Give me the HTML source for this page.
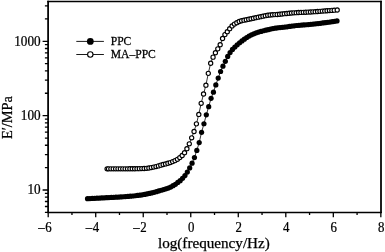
<!DOCTYPE html>
<html><head><meta charset="utf-8"><title>E′ vs log(frequency)</title>
<style>html,body{margin:0;padding:0;background:#fff}svg{display:block}</style></head>
<body><svg width="385" height="252" viewBox="0 0 385 252">
<rect width="385" height="252" fill="#fff"/>
<path d="M48.1 0.8V213.1M381.0 0.8V213.1" stroke="#000" stroke-width="1.75" fill="none"/>
<path d="M47.3 1.5H381.8M47.3 212.4H381.8" stroke="#000" stroke-width="1.45" fill="none"/>
<path d="M48.20 212.4v4.8M71.96 212.4v2.7M95.72 212.4v4.8M119.48 212.4v2.7M143.24 212.4v4.8M167.00 212.4v2.7M190.76 212.4v4.8M214.52 212.4v2.7M238.28 212.4v4.8M262.04 212.4v2.7M285.80 212.4v4.8M309.56 212.4v2.7M333.32 212.4v4.8M357.08 212.4v2.7M380.84 212.4v4.8M48.1 212.38h-3.2M48.1 206.49h-3.2M48.1 201.52h-3.2M48.1 197.21h-3.2M48.1 193.40h-3.2M48.1 190.00h-5.5M48.1 167.62h-3.2M48.1 154.53h-3.2M48.1 145.24h-3.2M48.1 138.03h-3.2M48.1 132.14h-3.2M48.1 127.17h-3.2M48.1 122.86h-3.2M48.1 119.05h-3.2M48.1 115.65h-5.5M48.1 93.27h-3.2M48.1 80.18h-3.2M48.1 70.89h-3.2M48.1 63.68h-3.2M48.1 57.79h-3.2M48.1 52.82h-3.2M48.1 48.51h-3.2M48.1 44.70h-3.2M48.1 41.30h-5.5M48.1 18.92h-3.2M48.1 5.83h-3.2" stroke="#000" stroke-width="1.3" fill="none"/>
<polyline points="87.52,198.69 89.90,198.57 92.27,198.45 94.65,198.32 97.03,198.20 99.40,198.07 101.78,197.95 104.15,197.82 106.53,197.69 108.91,197.55 111.28,197.43 113.66,197.30 116.03,197.17 118.41,197.04 120.79,196.90 123.16,196.75 125.54,196.58 127.91,196.41 130.29,196.21 132.67,196.00 135.04,195.75 137.42,195.48 139.79,195.17 142.17,194.82 144.55,194.43 146.92,193.99 149.30,193.47 151.67,192.90 154.05,192.29 156.43,191.66 158.80,190.97 161.18,190.25 163.55,189.55 165.93,188.87 168.31,188.06 170.68,187.03 173.06,185.74 175.43,184.28 177.81,182.46 180.19,180.63 182.56,178.32 184.94,175.51 187.31,172.05 189.69,167.98 192.07,163.21 194.44,157.57 196.82,150.39 199.19,142.57 201.57,132.26 203.95,123.75 206.32,114.86 208.70,106.64 211.07,98.36 213.45,92.14 215.83,84.92 218.20,78.07 220.58,71.50 222.95,66.21 225.33,61.27 227.71,56.42 230.08,52.52 232.46,49.40 234.83,47.05 237.21,44.76 239.59,42.75 241.96,40.98 244.34,39.22 246.71,37.50 249.09,36.07 251.47,34.82 253.84,33.76 256.22,32.86 258.59,32.08 260.97,31.38 263.35,30.75 265.72,30.17 268.10,29.63 270.47,29.10 272.85,28.60 275.23,28.15 277.60,27.79 279.98,27.54 282.35,27.33 284.73,27.08 287.11,26.78 289.48,26.45 291.86,26.10 294.23,25.78 296.61,25.50 298.99,25.28 301.36,25.10 303.74,24.92 306.11,24.75 308.49,24.57 310.87,24.35 313.24,24.11 315.62,23.85 317.99,23.58 320.37,23.29 322.75,22.99 325.12,22.68 327.50,22.36 329.87,22.02 332.25,21.66 334.63,21.30 337.00,20.91" fill="none" stroke="#000" stroke-width="0.8"/>
<polyline points="107.10,168.80 108.50,168.80 110.88,168.80 113.25,168.80 115.63,168.80 118.01,168.80 120.38,168.80 122.76,168.80 125.13,168.80 127.51,168.80 129.89,168.78 132.26,168.75 134.64,168.71 137.01,168.68 139.39,168.63 141.77,168.57 144.14,168.48 146.52,168.32 148.89,168.01 151.27,167.58 153.65,167.09 156.02,166.57 158.40,165.89 160.77,165.15 163.15,164.49 165.53,163.92 167.90,163.28 170.28,162.58 172.65,161.60 175.03,160.61 177.41,159.32 179.78,157.58 182.16,155.52 184.53,152.68 186.91,148.67 189.29,143.83 191.66,137.82 194.04,131.46 196.41,123.86 198.79,114.40 201.17,103.34 203.54,94.04 205.92,85.19 208.29,73.36 210.67,63.21 213.05,57.13 215.42,52.73 217.80,48.87 220.17,44.75 222.55,38.49 224.93,34.62 227.30,31.67 229.68,28.65 232.05,25.94 234.43,24.08 236.81,22.65 239.18,21.50 241.56,20.71 243.93,20.17 246.31,19.71 248.69,19.22 251.06,18.73 253.44,18.22 255.81,17.68 258.19,17.16 260.57,16.66 262.94,16.16 265.32,15.68 267.69,15.26 270.07,14.96 272.45,14.76 274.82,14.61 277.20,14.46 279.57,14.25 281.95,13.96 284.33,13.69 286.70,13.46 289.08,13.23 291.45,13.02 293.83,12.83 296.21,12.66 298.58,12.52 300.96,12.41 303.33,12.31 305.71,12.21 308.09,12.10 310.46,11.97 312.84,11.82 315.21,11.66 317.59,11.48 319.97,11.30 322.34,11.12 324.72,10.94 327.09,10.75 329.47,10.57 331.85,10.38 334.22,10.19 337.20,9.99" fill="none" stroke="#000" stroke-width="0.8"/>
<g fill="#000">
<circle cx="87.52" cy="198.69" r="2.62"/>
<circle cx="89.90" cy="198.57" r="2.62"/>
<circle cx="92.27" cy="198.45" r="2.62"/>
<circle cx="94.65" cy="198.32" r="2.62"/>
<circle cx="97.03" cy="198.20" r="2.62"/>
<circle cx="99.40" cy="198.07" r="2.62"/>
<circle cx="101.78" cy="197.95" r="2.62"/>
<circle cx="104.15" cy="197.82" r="2.62"/>
<circle cx="106.53" cy="197.69" r="2.62"/>
<circle cx="108.91" cy="197.55" r="2.62"/>
<circle cx="111.28" cy="197.43" r="2.62"/>
<circle cx="113.66" cy="197.30" r="2.62"/>
<circle cx="116.03" cy="197.17" r="2.62"/>
<circle cx="118.41" cy="197.04" r="2.62"/>
<circle cx="120.79" cy="196.90" r="2.62"/>
<circle cx="123.16" cy="196.75" r="2.62"/>
<circle cx="125.54" cy="196.58" r="2.62"/>
<circle cx="127.91" cy="196.41" r="2.62"/>
<circle cx="130.29" cy="196.21" r="2.62"/>
<circle cx="132.67" cy="196.00" r="2.62"/>
<circle cx="135.04" cy="195.75" r="2.62"/>
<circle cx="137.42" cy="195.48" r="2.62"/>
<circle cx="139.79" cy="195.17" r="2.62"/>
<circle cx="142.17" cy="194.82" r="2.62"/>
<circle cx="144.55" cy="194.43" r="2.62"/>
<circle cx="146.92" cy="193.99" r="2.62"/>
<circle cx="149.30" cy="193.47" r="2.62"/>
<circle cx="151.67" cy="192.90" r="2.62"/>
<circle cx="154.05" cy="192.29" r="2.62"/>
<circle cx="156.43" cy="191.66" r="2.62"/>
<circle cx="158.80" cy="190.97" r="2.62"/>
<circle cx="161.18" cy="190.25" r="2.62"/>
<circle cx="163.55" cy="189.55" r="2.62"/>
<circle cx="165.93" cy="188.87" r="2.62"/>
<circle cx="168.31" cy="188.06" r="2.62"/>
<circle cx="170.68" cy="187.03" r="2.62"/>
<circle cx="173.06" cy="185.74" r="2.62"/>
<circle cx="175.43" cy="184.28" r="2.62"/>
<circle cx="177.81" cy="182.46" r="2.62"/>
<circle cx="180.19" cy="180.63" r="2.62"/>
<circle cx="182.56" cy="178.32" r="2.62"/>
<circle cx="184.94" cy="175.51" r="2.62"/>
<circle cx="187.31" cy="172.05" r="2.62"/>
<circle cx="189.69" cy="167.98" r="2.62"/>
<circle cx="192.07" cy="163.21" r="2.62"/>
<circle cx="194.44" cy="157.57" r="2.62"/>
<circle cx="196.82" cy="150.39" r="2.62"/>
<circle cx="199.19" cy="142.57" r="2.62"/>
<circle cx="201.57" cy="132.26" r="2.62"/>
<circle cx="203.95" cy="123.75" r="2.62"/>
<circle cx="206.32" cy="114.86" r="2.62"/>
<circle cx="208.70" cy="106.64" r="2.62"/>
<circle cx="211.07" cy="98.36" r="2.62"/>
<circle cx="213.45" cy="92.14" r="2.62"/>
<circle cx="215.83" cy="84.92" r="2.62"/>
<circle cx="218.20" cy="78.07" r="2.62"/>
<circle cx="220.58" cy="71.50" r="2.62"/>
<circle cx="222.95" cy="66.21" r="2.62"/>
<circle cx="225.33" cy="61.27" r="2.62"/>
<circle cx="227.71" cy="56.42" r="2.62"/>
<circle cx="230.08" cy="52.52" r="2.62"/>
<circle cx="232.46" cy="49.40" r="2.62"/>
<circle cx="234.83" cy="47.05" r="2.62"/>
<circle cx="237.21" cy="44.76" r="2.62"/>
<circle cx="239.59" cy="42.75" r="2.62"/>
<circle cx="241.96" cy="40.98" r="2.62"/>
<circle cx="244.34" cy="39.22" r="2.62"/>
<circle cx="246.71" cy="37.50" r="2.62"/>
<circle cx="249.09" cy="36.07" r="2.62"/>
<circle cx="251.47" cy="34.82" r="2.62"/>
<circle cx="253.84" cy="33.76" r="2.62"/>
<circle cx="256.22" cy="32.86" r="2.62"/>
<circle cx="258.59" cy="32.08" r="2.62"/>
<circle cx="260.97" cy="31.38" r="2.62"/>
<circle cx="263.35" cy="30.75" r="2.62"/>
<circle cx="265.72" cy="30.17" r="2.62"/>
<circle cx="268.10" cy="29.63" r="2.62"/>
<circle cx="270.47" cy="29.10" r="2.62"/>
<circle cx="272.85" cy="28.60" r="2.62"/>
<circle cx="275.23" cy="28.15" r="2.62"/>
<circle cx="277.60" cy="27.79" r="2.62"/>
<circle cx="279.98" cy="27.54" r="2.62"/>
<circle cx="282.35" cy="27.33" r="2.62"/>
<circle cx="284.73" cy="27.08" r="2.62"/>
<circle cx="287.11" cy="26.78" r="2.62"/>
<circle cx="289.48" cy="26.45" r="2.62"/>
<circle cx="291.86" cy="26.10" r="2.62"/>
<circle cx="294.23" cy="25.78" r="2.62"/>
<circle cx="296.61" cy="25.50" r="2.62"/>
<circle cx="298.99" cy="25.28" r="2.62"/>
<circle cx="301.36" cy="25.10" r="2.62"/>
<circle cx="303.74" cy="24.92" r="2.62"/>
<circle cx="306.11" cy="24.75" r="2.62"/>
<circle cx="308.49" cy="24.57" r="2.62"/>
<circle cx="310.87" cy="24.35" r="2.62"/>
<circle cx="313.24" cy="24.11" r="2.62"/>
<circle cx="315.62" cy="23.85" r="2.62"/>
<circle cx="317.99" cy="23.58" r="2.62"/>
<circle cx="320.37" cy="23.29" r="2.62"/>
<circle cx="322.75" cy="22.99" r="2.62"/>
<circle cx="325.12" cy="22.68" r="2.62"/>
<circle cx="327.50" cy="22.36" r="2.62"/>
<circle cx="329.87" cy="22.02" r="2.62"/>
<circle cx="332.25" cy="21.66" r="2.62"/>
<circle cx="334.63" cy="21.30" r="2.62"/>
<circle cx="337.00" cy="20.91" r="2.62"/>
</g>
<g fill="#fff" stroke="#000" stroke-width="1.15">
<circle cx="107.10" cy="168.80" r="2.1"/>
<circle cx="108.50" cy="168.80" r="2.1"/>
<circle cx="110.88" cy="168.80" r="2.1"/>
<circle cx="113.25" cy="168.80" r="2.1"/>
<circle cx="115.63" cy="168.80" r="2.1"/>
<circle cx="118.01" cy="168.80" r="2.1"/>
<circle cx="120.38" cy="168.80" r="2.1"/>
<circle cx="122.76" cy="168.80" r="2.1"/>
<circle cx="125.13" cy="168.80" r="2.1"/>
<circle cx="127.51" cy="168.80" r="2.1"/>
<circle cx="129.89" cy="168.78" r="2.1"/>
<circle cx="132.26" cy="168.75" r="2.1"/>
<circle cx="134.64" cy="168.71" r="2.1"/>
<circle cx="137.01" cy="168.68" r="2.1"/>
<circle cx="139.39" cy="168.63" r="2.1"/>
<circle cx="141.77" cy="168.57" r="2.1"/>
<circle cx="144.14" cy="168.48" r="2.1"/>
<circle cx="146.52" cy="168.32" r="2.1"/>
<circle cx="148.89" cy="168.01" r="2.1"/>
<circle cx="151.27" cy="167.58" r="2.1"/>
<circle cx="153.65" cy="167.09" r="2.1"/>
<circle cx="156.02" cy="166.57" r="2.1"/>
<circle cx="158.40" cy="165.89" r="2.1"/>
<circle cx="160.77" cy="165.15" r="2.1"/>
<circle cx="163.15" cy="164.49" r="2.1"/>
<circle cx="165.53" cy="163.92" r="2.1"/>
<circle cx="167.90" cy="163.28" r="2.1"/>
<circle cx="170.28" cy="162.58" r="2.1"/>
<circle cx="172.65" cy="161.60" r="2.1"/>
<circle cx="175.03" cy="160.61" r="2.1"/>
<circle cx="177.41" cy="159.32" r="2.1"/>
<circle cx="179.78" cy="157.58" r="2.1"/>
<circle cx="182.16" cy="155.52" r="2.1"/>
<circle cx="184.53" cy="152.68" r="2.1"/>
<circle cx="186.91" cy="148.67" r="2.1"/>
<circle cx="189.29" cy="143.83" r="2.1"/>
<circle cx="191.66" cy="137.82" r="2.1"/>
<circle cx="194.04" cy="131.46" r="2.1"/>
<circle cx="196.41" cy="123.86" r="2.1"/>
<circle cx="198.79" cy="114.40" r="2.1"/>
<circle cx="201.17" cy="103.34" r="2.1"/>
<circle cx="203.54" cy="94.04" r="2.1"/>
<circle cx="205.92" cy="85.19" r="2.1"/>
<circle cx="208.29" cy="73.36" r="2.1"/>
<circle cx="210.67" cy="63.21" r="2.1"/>
<circle cx="213.05" cy="57.13" r="2.1"/>
<circle cx="215.42" cy="52.73" r="2.1"/>
<circle cx="217.80" cy="48.87" r="2.1"/>
<circle cx="220.17" cy="44.75" r="2.1"/>
<circle cx="222.55" cy="38.49" r="2.1"/>
<circle cx="224.93" cy="34.62" r="2.1"/>
<circle cx="227.30" cy="31.67" r="2.1"/>
<circle cx="229.68" cy="28.65" r="2.1"/>
<circle cx="232.05" cy="25.94" r="2.1"/>
<circle cx="234.43" cy="24.08" r="2.1"/>
<circle cx="236.81" cy="22.65" r="2.1"/>
<circle cx="239.18" cy="21.50" r="2.1"/>
<circle cx="241.56" cy="20.71" r="2.1"/>
<circle cx="243.93" cy="20.17" r="2.1"/>
<circle cx="246.31" cy="19.71" r="2.1"/>
<circle cx="248.69" cy="19.22" r="2.1"/>
<circle cx="251.06" cy="18.73" r="2.1"/>
<circle cx="253.44" cy="18.22" r="2.1"/>
<circle cx="255.81" cy="17.68" r="2.1"/>
<circle cx="258.19" cy="17.16" r="2.1"/>
<circle cx="260.57" cy="16.66" r="2.1"/>
<circle cx="262.94" cy="16.16" r="2.1"/>
<circle cx="265.32" cy="15.68" r="2.1"/>
<circle cx="267.69" cy="15.26" r="2.1"/>
<circle cx="270.07" cy="14.96" r="2.1"/>
<circle cx="272.45" cy="14.76" r="2.1"/>
<circle cx="274.82" cy="14.61" r="2.1"/>
<circle cx="277.20" cy="14.46" r="2.1"/>
<circle cx="279.57" cy="14.25" r="2.1"/>
<circle cx="281.95" cy="13.96" r="2.1"/>
<circle cx="284.33" cy="13.69" r="2.1"/>
<circle cx="286.70" cy="13.46" r="2.1"/>
<circle cx="289.08" cy="13.23" r="2.1"/>
<circle cx="291.45" cy="13.02" r="2.1"/>
<circle cx="293.83" cy="12.83" r="2.1"/>
<circle cx="296.21" cy="12.66" r="2.1"/>
<circle cx="298.58" cy="12.52" r="2.1"/>
<circle cx="300.96" cy="12.41" r="2.1"/>
<circle cx="303.33" cy="12.31" r="2.1"/>
<circle cx="305.71" cy="12.21" r="2.1"/>
<circle cx="308.09" cy="12.10" r="2.1"/>
<circle cx="310.46" cy="11.97" r="2.1"/>
<circle cx="312.84" cy="11.82" r="2.1"/>
<circle cx="315.21" cy="11.66" r="2.1"/>
<circle cx="317.59" cy="11.48" r="2.1"/>
<circle cx="319.97" cy="11.30" r="2.1"/>
<circle cx="322.34" cy="11.12" r="2.1"/>
<circle cx="324.72" cy="10.94" r="2.1"/>
<circle cx="327.09" cy="10.75" r="2.1"/>
<circle cx="329.47" cy="10.57" r="2.1"/>
<circle cx="331.85" cy="10.38" r="2.1"/>
<circle cx="334.22" cy="10.19" r="2.1"/>
<circle cx="337.20" cy="9.99" r="2.1"/>
</g>
<path d="M76.3 41.4h27.6M76.3 54.5h27.6" stroke="#000" stroke-width="0.9"/>
<circle cx="90.3" cy="41.4" r="3.4" fill="#000"/>
<circle cx="90.3" cy="54.5" r="2.7" fill="#fff" stroke="#000" stroke-width="1.1"/>
<g font-family="'Liberation Serif', serif" fill="#000" stroke="#000" stroke-width="0.25">
<text transform="translate(110.7 45.25) scale(0.975 1)" font-size="11.9">PPC</text>
<text transform="translate(110.7 58.45) scale(0.975 1)" font-size="11.9">MA–PPC</text>
<text transform="translate(51.8 231.6) scale(0.9 1)" font-size="14.3" text-anchor="end">–<tspan dx="0.9">6</tspan></text>
<text transform="translate(99.3 231.6) scale(0.9 1)" font-size="14.3" text-anchor="end">–<tspan dx="0.9">4</tspan></text>
<text transform="translate(146.8 231.6) scale(0.9 1)" font-size="14.3" text-anchor="end">–<tspan dx="0.9">2</tspan></text>
<text transform="translate(191.3 231.6) scale(0.9 1)" font-size="14.3" text-anchor="middle">0</text>
<text transform="translate(238.8 231.6) scale(0.9 1)" font-size="14.3" text-anchor="middle">2</text>
<text transform="translate(286.3 231.6) scale(0.9 1)" font-size="14.3" text-anchor="middle">4</text>
<text transform="translate(333.8 231.6) scale(0.9 1)" font-size="14.3" text-anchor="middle">6</text>
<text transform="translate(381.3 231.6) scale(0.9 1)" font-size="14.3" text-anchor="middle">8</text>
<text transform="translate(40.6 194.4) scale(0.965 1)" font-size="13.7" text-anchor="end">10</text>
<text transform="translate(40.6 120.1) scale(0.965 1)" font-size="13.7" text-anchor="end">100</text>
<text transform="translate(40.6 45.7) scale(0.965 1)" font-size="13.7" text-anchor="end">1000</text>
<text x="213.9" y="248.4" font-size="15.15" text-anchor="middle">log(frequency/Hz)</text>
<text transform="translate(11.5 117.6) rotate(-90)" font-size="14.6" text-anchor="middle" textLength="43" lengthAdjust="spacingAndGlyphs">E′/MPa</text>
</g>
</svg></body></html>
